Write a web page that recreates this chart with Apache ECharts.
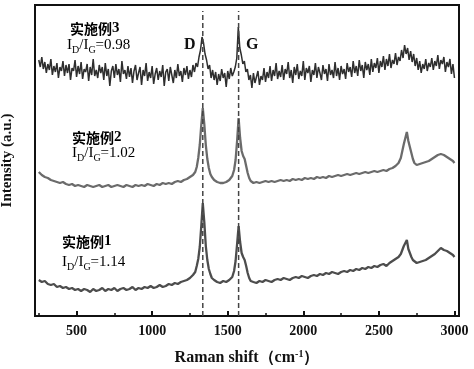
<!DOCTYPE html>
<html><head><meta charset="utf-8">
<script src="https://cdn.jsdelivr.net/npm/echarts@6/dist/echarts.min.js"></script>
<style>html,body{margin:0;padding:0;background:#fff}#c{width:474px;height:369px}</style>
</head><body><div id="c"></div>
<script>
// Raman shift sampling for spectra 1 and 2 (cm-1)
const ramanA = [250,270,290,310,330,350,370,390,410,430,450,470,490,510,530,550,570,590,610,630,650,670,690,710,730,750,770,790,810,830,850,870,890,910,930,950,970,990,1010,1030,1050,1070,1090,1110,1130,1150,1170,1190,1210,1230,1250,1270,
1285,1295,1305,1315,1325,1335,1345,1355,1365,1375,1385,1395,
1410,1430,1450,1470,1490,1510,1530,
1542,1552,1562,1572,1582,1592,1602,1612,1622,1632,1642,1652,
1670,1690,1710,1730,1750,1770,1790,1810,1830,1850,1870,1890,1910,1930,1950,1970,1990,2010,2030,2050,2070,2090,2110,2130,2150,2170,2190,2210,2230,2250,2270,2290,2310,2330,2350,2370,2390,2410,2430,2450,2470,2490,2510,2530,2550,2570,2590,2610,2630,
2645,2655,2665,2675,2685,2695,2705,2715,2725,2735,
2750,2770,2790,2810,2830,2850,2870,2890,2910,2930,2950,2970,2990,3000];

// 实施例1 intensity (a.u.)
const ex1 = [36,34,35,32,31,32,29,30,28,29,27,28,26,27,25,27,26,24,27,25,26,28,25,27,26,28,25,27,28,26,27,29,26,28,27,29,28,30,28,29,31,29,30,32,31,33,32,34,35,36,38,41,
44,50,57,69,90,113,94,70,56,47,42,38,
36,34,33,35,34,36,39,
45,55,72,90,74,63,59,56,50,43,38,35,
34,33,35,34,36,35,34,36,37,36,38,37,36,38,39,38,40,39,38,40,41,40,42,41,43,42,44,43,42,44,45,44,46,45,47,46,48,47,49,48,50,49,51,52,50,53,55,57,59,
62,66,70,73,76,67,63,59,56,54,
53,54,55,56,58,60,62,65,68,66,65,63,61,59];

// 实施例2 intensity (a.u.)
const ex2 = [144,141,139,138,136,135,134,133,134,132,131,132,130,131,130,129,131,130,129,130,131,129,130,131,129,130,131,130,129,131,130,129,131,130,131,130,132,131,130,132,131,133,132,133,132,134,135,134,136,137,139,141,
144,149,158,171,191,208,192,171,157,148,142,139,
136,134,133,133,134,136,140,
146,156,175,198,178,165,160,157,150,143,138,135,
133,134,133,134,135,134,135,134,135,136,135,136,135,137,136,137,136,138,137,138,137,139,138,139,138,140,139,140,141,140,141,142,141,142,143,142,143,144,143,144,145,144,145,146,145,147,148,150,153,
158,165,172,178,184,175,169,163,157,153,
151,152,153,154,155,157,159,161,162,161,159,157,155,153];

// Raman shift sampling for spectrum 3 (cm-1)
const ramanB = [250,260,270,280,290,300,310,320,330,340,350,360,370,380,390,400,410,420,430,440,
450,460,470,480,490,500,510,520,530,540,550,560,570,580,590,600,610,620,630,640,
650,660,670,680,690,700,710,720,730,740,750,760,770,780,790,800,810,820,830,840,
850,860,870,880,890,900,910,920,930,940,950,960,970,980,990,1000,1010,1020,1030,1040,
1050,1060,1070,1080,1090,1100,1110,1120,1130,1140,1150,1160,1170,1180,1190,1200,1210,1220,1230,1240,
1250,1260,1270,1280,1290,1300,1310,1320,1330,1340,1350,1360,1370,1380,1390,1400,1410,1420,1430,1440,
1450,1460,1470,1480,1490,1500,1510,1520,1530,1540,1550,1560,1570,1580,1590,1600,1610,1620,1630,1640,
1650,1660,1670,1680,1690,1700,1710,1720,1730,1740,1750,1760,1770,1780,1790,1800,1810,1820,1830,1840,
1850,1860,1870,1880,1890,1900,1910,1920,1930,1940,1950,1960,1970,1980,1990,2000,2010,2020,2030,2040,
2050,2060,2070,2080,2090,2100,2110,2120,2130,2140,2150,2160,2170,2180,2190,2200,2210,2220,2230,2240,
2250,2260,2270,2280,2290,2300,2310,2320,2330,2340,2350,2360,2370,2380,2390,2400,2410,2420,2430,2440,
2450,2460,2470,2480,2490,2500,2510,2520,2530,2540,2550,2560,2570,2580,2590,2600,2610,2620,2630,2640,
2650,2660,2670,2680,2690,2700,2710,2720,2730,2740,2750,2760,2770,2780,2790,2800,2810,2820,2830,2840,
2850,2860,2870,2880,2890,2900,2910,2920,2930,2940,2950,2960,2970,2980,2990,3000];

// 实施例3 intensity (a.u.)
const ex3 = [256,249,259,247,254,243,252,246,257,241,250,244,253,238,249,245,255,240,251,243,
252,236,248,245,256,239,250,242,254,237,247,244,252,235,249,241,257,240,246,238,
251,243,249,236,253,240,247,230,245,250,238,252,241,247,234,255,242,246,237,250,
239,248,233,245,251,236,243,249,231,246,240,253,235,244,238,250,232,242,248,236,
245,239,251,230,244,247,235,249,241,233,246,238,252,240,245,234,248,241,250,237,
246,239,251,244,253,249,259,266,279,273,262,256,247,251,238,246,236,244,231,242,
235,247,238,243,229,245,237,248,240,244,249,258,289,268,261,252,255,244,247,236,
241,228,243,233,239,245,231,240,236,248,234,244,238,250,235,246,240,253,237,245,
239,251,236,247,242,254,238,246,233,249,241,252,237,245,240,255,236,248,243,250,
234,246,241,253,238,249,243,236,251,242,247,235,252,241,246,238,254,240,248,236,
250,242,247,237,253,244,249,239,255,243,250,240,256,245,251,238,254,246,252,241,
257,244,253,248,258,243,255,249,260,246,257,250,262,248,256,252,263,251,259,255,
266,258,271,262,268,256,265,254,262,250,258,246,255,243,252,247,257,245,253,249,
258,246,255,250,261,247,256,252,259,244,254,249,257,242,252,238];

const majorTicks = [500,1000,1500,2000,2500,3000];
const minorTicks = [250,750,1250,1750,2250,2750];
const peakLines = [1335,1572];
const peakLineRange = [0,305];

const pairs = (xs, ys) => xs.map((x, i) => [x, ys[i]]);
const serif = 'Liberation Serif';

const subRich = {
  i: {fontFamily: serif, fontSize: 15, color: '#111', lineHeight: 20, verticalAlign: 'middle'},
  s: {fontFamily: serif, fontSize: 10, color: '#111', lineHeight: 10, verticalAlign: 'bottom'}
};
function ratioText(left, top, val) {
  return {type: 'text', left: left, top: top, z: 100,
    style: {text: '{i|I}{s|D}{i|/I}{s|G}{i|=' + val + '}', rich: subRich}};
}
function cnText(left, top, num) {
  return {type: 'text', left: left, top: top, z: 100,
    style: {text: '{c|实施例}{n|' + num + '}', rich: {
      c: {fontFamily: 'Noto Sans CJK SC', fontSize: 14, fontWeight: 'bold', color: '#111', lineHeight: 16},
      n: {fontFamily: serif, fontSize: 15, fontWeight: 'bold', color: '#111', lineHeight: 16}
    }}};
}

const chart = echarts.init(document.getElementById('c'), null, {renderer: 'canvas'});
const xBase = {type: 'value', min: 225, max: 3030, position: 'bottom', splitLine: {show: false}};
chart.setOption({
  animation: false,
  backgroundColor: '#fff',
  grid: {left: 35, right: 15, top: 5, bottom: 53, show: true, borderColor: '#111', borderWidth: 2, outerBoundsMode: 'none'},
  xAxis: [
    Object.assign({}, xBase, {
      name: '{a|Raman shift（cm}{s|-1}{a|）}',
      nameLocation: 'middle', nameGap: 33,
      nameTextStyle: {rich: {
        a: {fontFamily: serif, fontSize: 16, fontWeight: 'bold', color: '#111', lineHeight: 18, verticalAlign: 'middle'},
        s: {fontFamily: serif, fontSize: 10, fontWeight: 'bold', color: '#111', lineHeight: 10, verticalAlign: 'top'}
      }},
      axisLine: {show: true, lineStyle: {color: '#111', width: 2}},
      axisTick: {show: true, inside: true, length: 5, lineStyle: {color: '#111', width: 2}, customValues: majorTicks},
      axisLabel: {show: true, margin: 8, fontFamily: serif, fontSize: 14, fontWeight: 'bold', color: '#111',
        customValues: majorTicks, formatter: v => String(v)}
    }),
    Object.assign({}, xBase, {
      axisLine: {show: false},
      axisTick: {show: true, inside: true, length: 3, lineStyle: {color: '#111', width: 1.5}, customValues: minorTicks},
      axisLabel: {show: false}
    })
  ],
  yAxis: {
    type: 'value', min: 0, max: 311,
    name: 'Intensity (a.u.)', nameLocation: 'middle', nameGap: 20, nameRotate: 90,
    nameTextStyle: {fontFamily: serif, fontSize: 15, fontWeight: 'bold', color: '#111'},
    axisLine: {show: false}, axisTick: {show: false}, axisLabel: {show: false}, splitLine: {show: false}
  },
  series: [
    {type: 'line', name: '实施例1', data: pairs(ramanA, ex1), showSymbol: false, lineStyle: {color: '#4d4d4d', width: 2.3}, z: 3},
    {type: 'line', name: '实施例2', data: pairs(ramanA, ex2), showSymbol: false, lineStyle: {color: '#6b6b6b', width: 2.3}, z: 3},
    {type: 'line', name: '实施例3', data: pairs(ramanB, ex3), showSymbol: false, lineStyle: {color: '#2e2e2e', width: 1.5}, z: 3},
    {type: 'line', name: 'D', data: peakLineRange.map(y => [peakLines[0], y]), showSymbol: false, lineStyle: {color: '#444', width: 1.5, type: [5, 3]}, z: 4},
    {type: 'line', name: 'G', data: peakLineRange.map(y => [peakLines[1], y]), showSymbol: false, lineStyle: {color: '#444', width: 1.5, type: [5, 3]}, z: 4}
  ],
  graphic: [
    cnText(70, 21, '3'),
    ratioText(67, 38, '0.98'),
    {type: 'text', left: 184, top: 37, z: 100, style: {text: 'D', fontFamily: serif, fontSize: 16, fontWeight: 'bold', fill: '#111'}},
    {type: 'text', left: 246, top: 37, z: 100, style: {text: 'G', fontFamily: serif, fontSize: 16, fontWeight: 'bold', fill: '#111'}},
    cnText(72, 130, '2'),
    ratioText(72, 146, '1.02'),
    cnText(62, 234, '1'),
    ratioText(62, 255, '1.14')
  ]
});
</script>
</body></html>
